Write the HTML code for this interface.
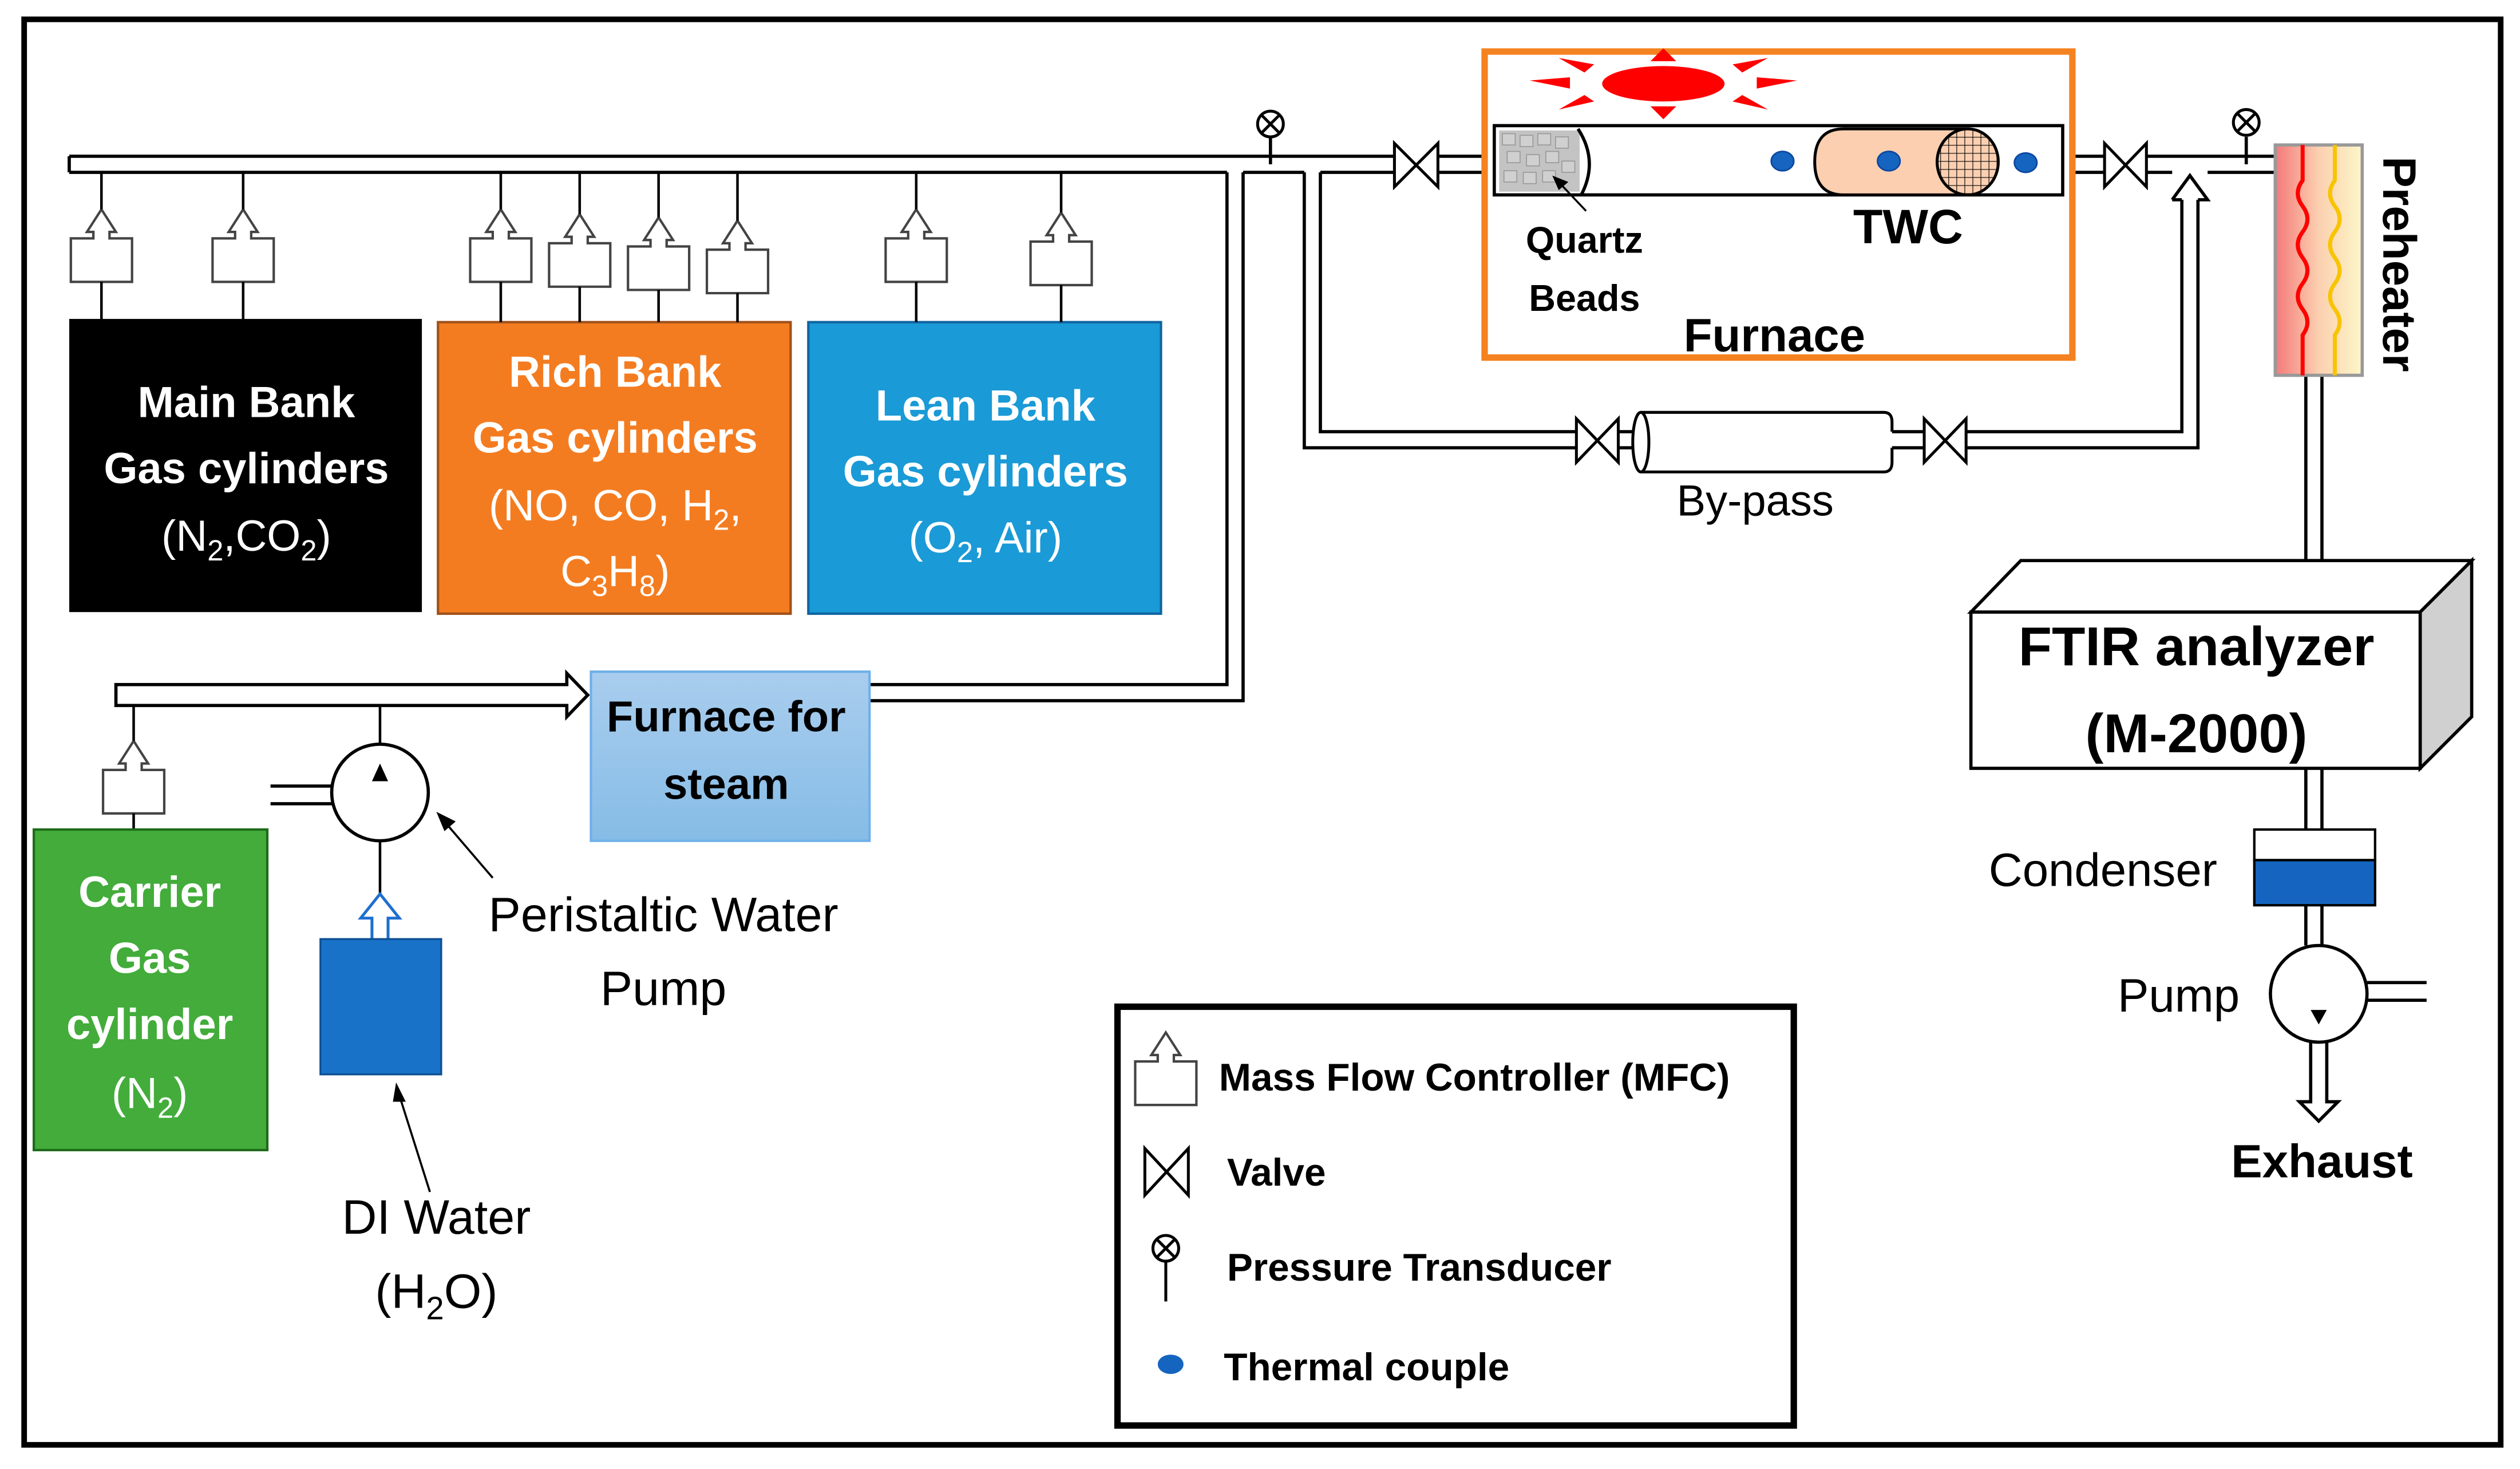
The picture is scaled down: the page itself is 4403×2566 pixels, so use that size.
<!DOCTYPE html>
<html><head><meta charset="utf-8"><style>html,body{margin:0;padding:0;background:#fff}svg{display:block}</style></head><body>
<svg xmlns="http://www.w3.org/2000/svg" width="4403" height="2566" viewBox="0 0 1565 912" preserveAspectRatio="none" font-family="Liberation Sans, sans-serif">
<defs>
<linearGradient id="steam" x1="0" y1="0" x2="0" y2="1"><stop offset="0" stop-color="#a9cdee"/><stop offset="1" stop-color="#86bce6"/></linearGradient>
<linearGradient id="pre" x1="0" y1="0" x2="1" y2="0"><stop offset="0" stop-color="#f47a7a"/><stop offset="0.5" stop-color="#fbd0b0"/><stop offset="1" stop-color="#fdf6c8"/></linearGradient>
<pattern id="mesh" width="5" height="5" patternUnits="userSpaceOnUse"><rect width="5" height="5" fill="#fbcfb0"/><path d="M0 0H5M0 0V5" stroke="#000" stroke-width="0.8"/></pattern>
</defs>
<rect x="15" y="12" width="1538" height="885" fill="#fff" stroke="#000" stroke-width="3.5"/>

<g fill="none" stroke="#000" stroke-width="2">
<!-- main pipe -->
<path d="M43 97H866M43 107H762M772 107H810M820 107H866M43 97V107"/>
<!-- down to steam -->
<path d="M762 107V425H540M772 107V435H540"/>
<!-- bypass -->
<path d="M810 107V278H979M820 107V268H979M1005 268H1015M1005 278H1015"/>
<path d="M1175 268H1195M1175 278H1195M1221 268H1355V124M1221 278H1365V124"/>
<path d="M1349 124H1355M1365 124H1371L1360 109L1349 124" fill="#fff"/>
<!-- to furnace & after -->
<path d="M893 97H928M893 107H928M1281 97H1307M1281 107H1307M1333 97H1413M1333 107H1349M1371 107H1413"/>
<!-- preheater to FTIR -->
<path d="M1432 233V348M1442 233V348M1432 477V515M1442 477V515M1432 562V587M1442 562V587"/>
<path d="M1470 610H1507M1470 621H1507"/>
<path d="M1435 647V684H1428L1440 696L1452 684H1445V647"/>
<!-- transducers -->
<path d="M789 85V102M1395 85V102"/>
</g>
<g fill="#fff" stroke="#000" stroke-width="1.8">
<circle cx="789" cy="77" r="8"/><path d="M783 71L795 83M795 71L783 83"/>
<circle cx="1395" cy="76" r="8"/><path d="M1389 70L1401 82M1401 70L1389 82"/>
<!-- valves -->
<path d="M866 89L893 116V89L866 116Z"/>
<path d="M1307 89L1333 116V89L1307 116Z"/>
<path d="M979 260L1005 287V260L979 287Z"/>
<path d="M1195 260L1221 287V260L1195 287Z"/>
<!-- bypass cylinder -->
<path d="M1019 256H1170Q1175 256 1175 262V268M1175 278V287Q1175 293 1170 293H1019"/>
<ellipse cx="1019" cy="274.5" rx="5" ry="18.5"/>
</g>

<!-- furnace -->
<rect x="922" y="32" width="365" height="190" fill="#fff" stroke="#f58220" stroke-width="4"/>
<g fill="#f00">
<ellipse cx="1033" cy="52" rx="38" ry="11"/>
<path d="M1025 38L1033 30L1041 38ZM1025 66L1033 74L1041 66ZM950 50L975 48L975 55ZM1116 50L1091 48L1091 55Z"/>
<path d="M968 36L990 40L984 45ZM1098 36L1076 40L1082 45ZM968 68L990 63L984 59ZM1098 68L1076 63L1082 59Z"/>
</g>
<rect x="928" y="78" width="353" height="43" fill="#fff" stroke="#000" stroke-width="2"/>
<rect x="931" y="81" width="50" height="38" fill="#b8b8b8" opacity="0.85"/>
<g fill="#d0d0d0" stroke="#999" stroke-width="0.6"><rect x="933" y="83" width="8" height="7"/><rect x="944" y="84" width="8" height="7"/><rect x="955" y="83" width="8" height="7"/><rect x="966" y="85" width="8" height="7"/><rect x="936" y="94" width="8" height="7"/><rect x="948" y="96" width="8" height="7"/><rect x="960" y="94" width="8" height="7"/><rect x="934" y="106" width="8" height="7"/><rect x="946" y="107" width="8" height="7"/><rect x="958" y="106" width="8" height="7"/><rect x="970" y="100" width="8" height="7"/></g>
<path d="M980 80Q993 100 982 121" fill="none" stroke="#000" stroke-width="2"/>
<path d="M1145 80H1222V121H1145Q1127 121 1127 100.5Q1127 80 1145 80Z" fill="#fbcfb0" stroke="#000" stroke-width="1.8"/>
<ellipse cx="1222" cy="100.5" rx="19" ry="20.5" fill="url(#mesh)" stroke="#000" stroke-width="1.8"/>
<g fill="#1565c0" stroke="#0d47a1" stroke-width="1"><ellipse cx="1107" cy="100" rx="7" ry="6"/><ellipse cx="1173" cy="100" rx="7" ry="6"/><ellipse cx="1258" cy="101" rx="7" ry="6"/></g>
<path d="M985 131L968 113" stroke="#000" stroke-width="1.2"/><path d="M964 109L974 113L968 118Z"/>
<g font-weight="bold" font-size="23" text-anchor="middle">
<text x="984" y="157">Quartz</text><text x="984" y="193">Beads</text>
<text x="1185" y="151" font-size="30">TWC</text>
<text x="1102" y="218" font-size="29">Furnace</text>
</g>

<!-- preheater -->
<rect x="1413" y="90" width="54" height="143" fill="url(#pre)" stroke="#999" stroke-width="2"/>
<path d="M1430 90V112Q1424 120 1430 128Q1436 136 1430 144Q1424 152 1430 160Q1436 168 1430 176Q1424 184 1430 192Q1436 200 1430 208V233" fill="none" stroke="#f00" stroke-width="2.5"/>
<path d="M1450 90V112Q1444 120 1450 128Q1456 136 1450 144Q1444 152 1450 160Q1456 168 1450 176Q1444 184 1450 192Q1456 200 1450 208V233" fill="none" stroke="#f8c400" stroke-width="2.5"/>
<text transform="translate(1480 164) rotate(90)" text-anchor="middle" font-weight="bold" font-size="29">Preheater</text>

<!-- FTIR -->
<path d="M1224 380L1255 348H1535L1503 380Z" fill="#fff" stroke="#000" stroke-width="2"/>
<path d="M1503 380L1535 348V445L1503 477Z" fill="#d0d0d0" stroke="#000" stroke-width="2"/>
<rect x="1224" y="380" width="279" height="97" fill="#fff" stroke="#000" stroke-width="2"/>
<g font-weight="bold" font-size="34" text-anchor="middle"><text x="1364" y="413">FTIR analyzer</text><text x="1364" y="467">(M-2000)</text></g>
<rect x="1400" y="515" width="75" height="19" fill="#fff" stroke="#000" stroke-width="1.5"/>
<rect x="1400" y="534" width="75" height="28" fill="#1565c0" stroke="#000" stroke-width="1.5"/>
<circle cx="1440" cy="617" r="30" fill="#fff" stroke="#000" stroke-width="2"/>
<path d="M1435 627H1445L1440 636Z"/>
<g font-size="29" text-anchor="middle"><text x="1306" y="550">Condenser</text><text x="1353" y="628">Pump</text></g>
<text x="1442" y="731" font-size="29" font-weight="bold" text-anchor="middle">Exhaust</text>

<!-- gas boxes -->
<rect x="43" y="198" width="219" height="182" fill="#000"/>
<rect x="272" y="200" width="219" height="181" fill="#f47c20" stroke="#a0501a" stroke-width="1.5"/>
<rect x="502" y="200" width="219" height="181" fill="#1a9ad6" stroke="#1064a0" stroke-width="1.5"/>
<g fill="#fff" font-size="27" text-anchor="middle">
<text x="153" y="259" font-weight="bold">Main Bank</text><text x="153" y="300" font-weight="bold">Gas cylinders</text><text x="153" y="342">(N<tspan font-size="18" dy="6">2</tspan><tspan dy="-6">,CO</tspan><tspan font-size="18" dy="6">2</tspan><tspan dy="-6">)</tspan></text>
<text x="382" y="240" font-weight="bold">Rich Bank</text><text x="382" y="281" font-weight="bold">Gas cylinders</text><text x="382" y="323">(NO, CO, H<tspan font-size="18" dy="6">2</tspan><tspan dy="-6">,</tspan></text><text x="382" y="364">C<tspan font-size="18" dy="6">3</tspan><tspan dy="-6">H</tspan><tspan font-size="18" dy="6">8</tspan><tspan dy="-6">)</tspan></text>
<text x="612" y="261" font-weight="bold">Lean Bank</text><text x="612" y="302" font-weight="bold">Gas cylinders</text><text x="612" y="343">(O<tspan font-size="18" dy="6">2</tspan><tspan dy="-6">, Air)</tspan></text>
</g>

<!-- MFCs -->
<g fill="#fff" stroke="#444" stroke-width="1.5">
<path id="m" d="M-19 27V0H-5V-4H-9L0-18L9-4H5V0H19V27Z" transform="translate(63 148)"/>
<use href="#m" transform="translate(88 0)"/>
<use href="#m" transform="translate(248 0)"/>
<use href="#m" transform="translate(297 3)"/>
<use href="#m" transform="translate(346 5)"/>
<use href="#m" transform="translate(395 7)"/>
<use href="#m" transform="translate(506 0)"/>
<use href="#m" transform="translate(596 2)"/>
<use href="#m" transform="translate(20 330)"/>
</g>
<g stroke="#000" stroke-width="1.6">
<path d="M63 107V130M63 175V198M151 107V130M151 175V198M311 107V130M311 175V200M360 107V133M360 178V200M409 107V135M409 180V200M458 107V137M458 182V200M569 107V130M569 175V200M659 107V132M659 177V200"/>
<path d="M83 438V460M83 505V515M236 438V462M236 522V555"/>
</g>

<!-- steam line -->
<path d="M72 438V425H352V418L365 431.5L352 445V438Z" fill="#fff" stroke="#000" stroke-width="2"/>
<rect x="367" y="417" width="173" height="105" fill="url(#steam)" stroke="#6fb0e8" stroke-width="1.5"/>
<g font-weight="bold" font-size="27" text-anchor="middle"><text x="451" y="454">Furnace for</text><text x="451" y="496">steam</text></g>

<!-- carrier -->
<rect x="21" y="515" width="145" height="199" fill="#43ac3b" stroke="#1f6b1a" stroke-width="1.5"/>
<g fill="#fff" font-size="27" text-anchor="middle"><text x="93" y="563" font-weight="bold">Carrier</text><text x="93" y="604" font-weight="bold">Gas</text><text x="93" y="645" font-weight="bold">cylinder</text><text x="93" y="688">(N<tspan font-size="18" dy="6">2</tspan><tspan dy="-6">)</tspan></text></g>

<!-- water pump -->
<path d="M168 488H206M168 499H206" stroke="#000" stroke-width="2"/>
<circle cx="236" cy="492" r="30" fill="#fff" stroke="#000" stroke-width="2"/>
<path d="M231 485H241L236 474Z"/>
<path d="M231 583V570H224L236 555L248 570H241V583" fill="#fff" stroke="#1e6fd0" stroke-width="1.8"/>
<rect x="199" y="583" width="75" height="84" fill="#1872c8" stroke="#0e4f94" stroke-width="1.2"/>
<path d="M306 545L276 510" stroke="#000" stroke-width="1.3"/><path d="M271 504L283 510L276 516Z"/>
<path d="M267 740L248 680" stroke="#000" stroke-width="1.3"/><path d="M246 672L252 684L244 684Z"/>
<g font-size="30" text-anchor="middle"><text x="412" y="578">Peristaltic Water</text><text x="412" y="624">Pump</text><text x="271" y="766">DI Water</text><text x="271" y="812">(H<tspan font-size="20" dy="7">2</tspan><tspan dy="-7">O)</tspan></text></g>

<!-- legend -->
<rect x="694" y="625" width="420" height="260" fill="#fff" stroke="#000" stroke-width="4"/>
<path d="M705 686V659H719V655H715L724 641L733 655H729V659H743V686Z" fill="#fff" stroke="#444" stroke-width="1.5"/>
<path d="M711 713L738 742V713L711 742Z" fill="#fff" stroke="#000" stroke-width="1.8"/>
<circle cx="724" cy="775" r="8" fill="#fff" stroke="#000" stroke-width="1.8"/><path d="M718 769L730 781M730 769L718 781M724 783V808" stroke="#000" stroke-width="1.8"/>
<ellipse cx="727" cy="847" rx="8" ry="6" fill="#1565c0"/>
<g font-weight="bold" font-size="24"><text x="757" y="677">Mass Flow Controller (MFC)</text><text x="762" y="736">Valve</text><text x="762" y="795">Pressure Transducer</text><text x="760" y="857">Thermal couple</text></g>
<text x="1090" y="320" font-size="27" text-anchor="middle">By-pass</text>
</svg>
</body></html>
